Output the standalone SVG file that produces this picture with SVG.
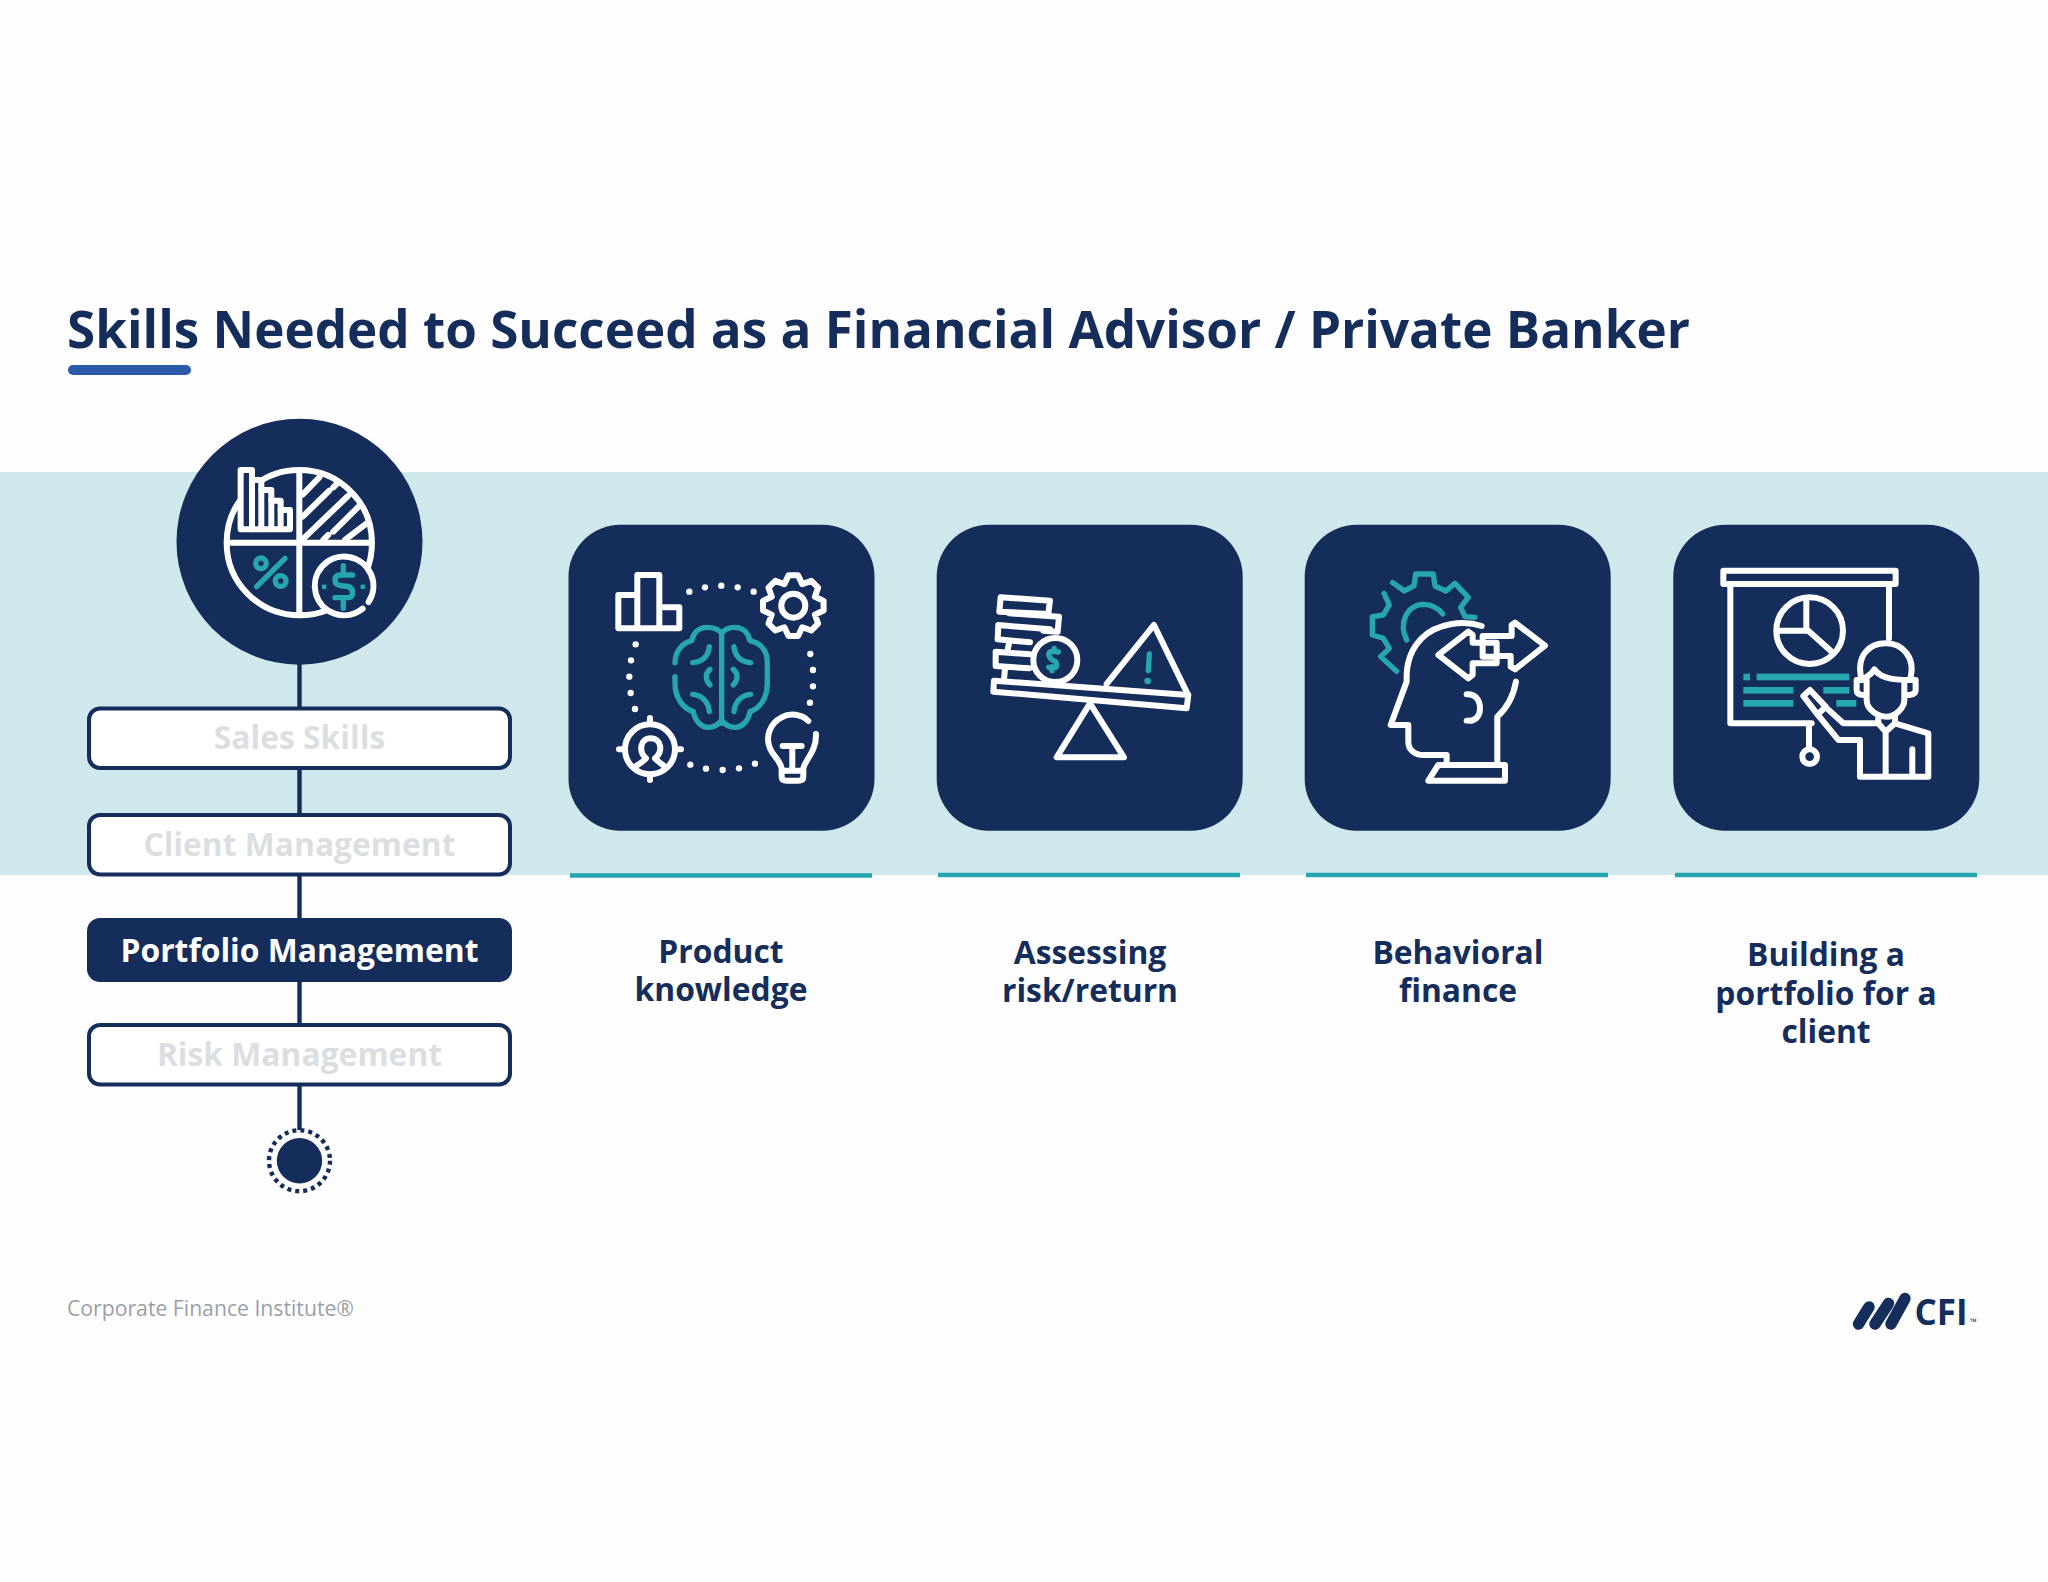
<svg xmlns="http://www.w3.org/2000/svg" width="2048" height="1582" viewBox="0 0 2048 1582">
<style>
text{font-family:"Open Sans","Noto Sans","Liberation Sans",sans-serif}
.t{font-weight:700;fill:#152d5a;font-size:51.200px}
.lb{font-weight:700;fill:#152d5a;font-size:31.800px;text-anchor:middle}
.bt{font-weight:700;font-size:31.800px;text-anchor:middle;fill:#dcdfe2}
.box{fill:#fff;stroke:#152d5a;stroke-width:4}
.card{fill:#152d5a}
.w{fill:none;stroke:#fff;stroke-linecap:round;stroke-linejoin:round;stroke-width:18}
.wf{fill:#152d5a;stroke:#fff;stroke-linejoin:round;stroke-linecap:round;stroke-width:18}
.c{fill:none;stroke:#26a6ae;stroke-linecap:round;stroke-linejoin:round;stroke-width:16}
.tf{fill:#26a6ae}
.df{fill:#fff}
.rule{stroke:#26a6ae;stroke-width:4.500}
</style>
<rect width="2048" height="1582" fill="#fefdfe"/>
<rect y="472" width="2048" height="403" fill="#d0e8ec"/>
<g id="title">
<text class="t" x="67" y="348">Skills Needed to Succeed as a Financial Advisor / Private Banker</text>
<rect x="68" y="365" width="123" height="10" rx="5" fill="#2a5caa"/>
</g>
<g id="connectors" stroke="#152d5a" stroke-width="4.400" fill="none">
<path d="M299.500 660V1130"/>
</g>
<g id="main-icon">
<circle cx="299.500" cy="541.700" r="123" fill="#152d5a"/>
<g transform="translate(60 400) scale(.3333)">
<circle class="w" cx="718" cy="428" r="218" stroke-width="16"/>
<path class="w" d="M718 212V645M505 428H932" stroke-width="15"/>
<path class="w" stroke-width="14" stroke-linecap="butt" d="M728 284L778 232M820 262L832 250M728 350L808 272M728 418L864 288M790 420L805 405M820 395L898 318M855 420L920 370"/>
<path class="wf" stroke-width="15" stroke-linejoin="miter" d="M542 388V210H576V240H604V270H634V302H662V330H690V388Z"/>
<path class="w" stroke-width="15" stroke-linecap="butt" d="M576 240V388M604 270V388M634 302V388M662 330V388"/>
<circle cx="850" cy="560" r="88" fill="#152d5a"/>
<path class="w" stroke-width="16" stroke-linecap="butt" d="M908 626A88 88 0 1 1 926 606"/>
<path class="c" stroke-width="12" stroke-linecap="butt" d="M590 560L675 475"/>
<circle class="c" stroke-width="12" cx="603" cy="490" r="16"/>
<circle class="c" stroke-width="12" cx="662" cy="543" r="16"/>
<path class="c" stroke-width="13" stroke-linecap="butt" d="M878 525H842Q825 525 825 540Q825 558 850 558Q878 558 878 578Q878 593 860 593H825M850 497V525M850 593V625"/>
<rect class="tf" x="786" y="554" width="13" height="13"/>
<rect class="tf" x="902" y="554" width="13" height="13"/>
</g>
</g>
<g id="node-sales"><rect class="box" x="89" y="708.500" width="421" height="59.500" rx="11"/><text class="bt" x="299.500" y="749">Sales Skills</text></g>
<g id="node-client"><rect class="box" x="89" y="815" width="421" height="59.500" rx="11"/><text class="bt" x="299.500" y="856">Client Management</text></g>
<g id="node-portfolio"><rect x="87" y="918" width="425" height="64" rx="13" fill="#152d5a"/><text class="bt" style="fill:#fff" x="299.500" y="961.500">Portfolio Management</text></g>
<g id="node-risk"><rect class="box" x="89" y="1025" width="421" height="59.500" rx="11"/><text class="bt" x="299.500" y="1066">Risk Management</text></g>
<g id="node-end">
<circle cx="299.500" cy="1160.700" r="22.700" fill="#152d5a"/>
<circle cx="299.500" cy="1160.700" r="30.500" fill="none" stroke="#152d5a" stroke-width="4.400" stroke-dasharray="4 4.020"/>
</g>
<g id="card-product">
<rect class="card" x="568.500" y="524.700" width="306" height="306" rx="52"/>
<g transform="translate(560 510) scale(.3333)">
<path class="w" d="M175 355V255H232V355ZM232 355V195H298V355ZM298 355V292H358V355Z"/>
<g class="df"><circle cx="388" cy="245" r="9.500"/><circle cx="435" cy="232" r="9.500"/><circle cx="484" cy="227" r="9.500"/><circle cx="533" cy="232" r="9.500"/><circle cx="581" cy="245" r="9.500"/><circle cx="227" cy="403" r="9.500"/><circle cx="213" cy="451" r="9.500"/><circle cx="208" cy="500" r="9.500"/><circle cx="212" cy="549" r="9.500"/><circle cx="225" cy="597" r="9.500"/><circle cx="751" cy="432" r="9.500"/><circle cx="759" cy="480" r="9.500"/><circle cx="759" cy="529" r="9.500"/><circle cx="750" cy="578" r="9.500"/><circle cx="391" cy="764" r="9.500"/><circle cx="438" cy="776" r="9.500"/><circle cx="488" cy="780" r="9.500"/><circle cx="537" cy="775" r="9.500"/><circle cx="585" cy="761" r="9.500"/></g>
<path class="w" stroke-width="20" d="M790.900 272.600L790.900 301.400L764.700 313.800L774.400 341.100L754.100 361.400L726.800 351.700L714.400 377.900L685.600 377.900L673.200 351.700L645.900 361.400L625.600 341.100L635.300 313.800L609.100 301.400L609.100 272.600L635.300 260.200L625.600 232.900L645.900 212.600L673.200 222.300L685.600 196.100L714.400 196.100L726.800 222.300L754.100 212.600L774.400 232.900L764.700 260.200Z"/>
<circle class="w" stroke-width="20" cx="700" cy="287" r="36"/>
<path class="c" d="M485 370V640M485 370C495 355 510 352 525 352C550 352 565 370 570 392C605 400 622 425 622 455V520C622 565 600 595 570 605C565 635 545 652 525 652C510 652 495 645 485 630M485 370C475 355 460 352 440 352C415 352 400 370 395 392C365 400 345 425 345 458M345 500V520C345 565 370 595 400 605C405 635 425 652 445 652C460 652 475 645 485 630M522 410C525 440 545 455 572 458M520 478C535 490 535 510 520 525M572 553C545 555 525 575 522 605M448 410C445 440 425 455 398 458M450 478C435 490 435 510 450 525M398 553C425 555 445 575 448 605"/>
<circle class="w" cx="270" cy="718" r="75"/>
<path class="w" d="M270 624V640M270 796V810M177 718H190M350 718H363M228 768Q250 755 258 745C235 725 240 685 272 685C305 685 310 725 285 745Q295 755 312 768"/>
<path class="w" d="M745 633C725 612 690 608 665 622C630 640 615 680 630 715C640 740 660 750 665 775V800Q665 812 680 812H715Q730 812 730 800V775C735 750 770 725 768 672M665 782H730M668 708H725M697 708V775"/>
</g>
</g>
<g id="card-risk">
<rect class="card" x="936.700" y="524.700" width="306" height="306" rx="52"/>
<g transform="translate(930 510) scale(.3333)">
<path class="w" d="M480 580L380 742H582ZM530 522L672 345L772 550"/>
<path class="w" d="M237 310L387 320L383 365L340 362M205 345L360 358M205 345L203 388L300 397M238 395L232 425M197 425L300 433M197 425L197 468L298 475M225 475L222 510M212 262L360 272L355 312L208 305Z"/>
<path class="w" d="M192 512L775 555L770 595L190 545Z"/>
<circle class="wf" cx="376" cy="450" r="66"/>
<path class="c" stroke-width="18" d="M385 426L366 424Q356 425 356 435Q362 450 372 452Q382 458 380 468Q378 478 356 472M373 415L373 424M366 470L366 482"/>
<path class="c" stroke-width="20" d="M658 432L655 482"/>
<circle class="tf" cx="653" cy="513" r="10"/>
</g>
</g>
<g id="card-behavioral">
<rect class="card" x="1304.700" y="524.700" width="306" height="306" rx="52"/>
<g transform="translate(1300 510) scale(.3333)">
<path class="c" d="M278 218L313 243L342 228L347 192H400L405 228L438 243L465 220L505 262L482 292L495 320L525 322M252 250L268 285L250 315L217 320V375L250 385L268 415L242 440L290 484M320 390C295 340 320 285 370 283C395 283 415 295 428 312"/>
<path class="w" d="M545 348C490 330 410 340 365 385C330 420 318 470 320 515L272 645H325V695C325 720 345 735 370 735H440V765M385 812L415 765H615V812ZM592 765V620C620 595 640 560 648 515M500 553C525 550 540 570 540 595C540 620 525 635 500 632"/>
<path class="w" d="M415 435L505 365L518 375V398H590V460H518V495L505 505ZM548 430V378H635V345L645 338L735 407L645 478L632 470V438H590M548 398V440H590"/>
</g>
</g>
<g id="card-portfolio">
<rect class="card" x="1673.300" y="524.700" width="306" height="306" rx="52"/>
<g transform="translate(1665 510) scale(.3333)">
<path class="w" stroke-width="20" stroke-linecap="butt" d="M175 182H692V222H175ZM196 222V640H440M672 222V385M432 640V715"/>
<circle class="w" cx="434" cy="740" r="22"/>
<circle class="w" stroke-width="20" cx="434" cy="362" r="100"/>
<path class="w" stroke-width="20" stroke-linecap="butt" d="M424 270V360M340 362H430L497 422"/>
<g class="tf"><rect x="235" y="491" width="20" height="20"/><rect x="275" y="491" width="278" height="20"/><rect x="235" y="531" width="150" height="20"/><rect x="475" y="531" width="78" height="20"/><rect x="235" y="570" width="150" height="20"/><rect x="514" y="570" width="60" height="20"/></g>
<path class="w" stroke-width="20" d="M590 510C570 430 620 400 662 400C710 400 755 440 735 510M590 510C605 500 620 495 628 478C650 510 700 510 735 510M605 510V570C605 600 640 620 665 620C690 620 718 595 718 570V510M598 510H575V540Q575 555 597 555M725 510H752V540Q752 555 725 555"/>
<path class="wf" stroke-width="18" d="M415 558L435 540L482 590L458 614Z"/>
<path class="w" stroke-width="20" d="M480 590L535 640H640V620M690 620V640L790 670V800H585V690H520L458 614M640 640L662 665L690 640M662 665V800M742 718V800"/>
</g>
</g>
<g id="rules">
<path class="rule" d="M570 875.500H872M938 875H1240M1306 875H1608M1675 875H1977"/>
</g>
<g id="label-product"><text class="lb" x="721" y="963">Product</text><text class="lb" x="721" y="1001">knowledge</text></g>
<g id="label-risk"><text class="lb" x="1090" y="964">Assessing</text><text class="lb" x="1090" y="1002">risk/return</text></g>
<g id="label-behavioral"><text class="lb" x="1458" y="964">Behavioral</text><text class="lb" x="1458" y="1002">finance</text></g>
<g id="label-portfolio"><text class="lb" x="1826" y="966">Building a</text><text class="lb" x="1826" y="1005">portfolio for a</text><text class="lb" x="1826" y="1043">client</text></g>
<g id="footer">
<text x="67" y="1315.500" font-size="21.200" fill="#9ba0a8">Corporate Finance Institute®</text>
</g>
<g id="logo">
<path d="M1858.500 1324L1869 1307M1875 1324L1888.500 1303.500M1891 1324L1905 1298.500" stroke="#152d5a" stroke-width="11.500" stroke-linecap="round" fill="none"/>
<text x="1914.500" y="1325" font-size="35" font-weight="700" fill="#152d5a">CFI</text>
<text x="1970" y="1325" font-size="9" fill="#152d5a">™</text>
</g>
</svg>
